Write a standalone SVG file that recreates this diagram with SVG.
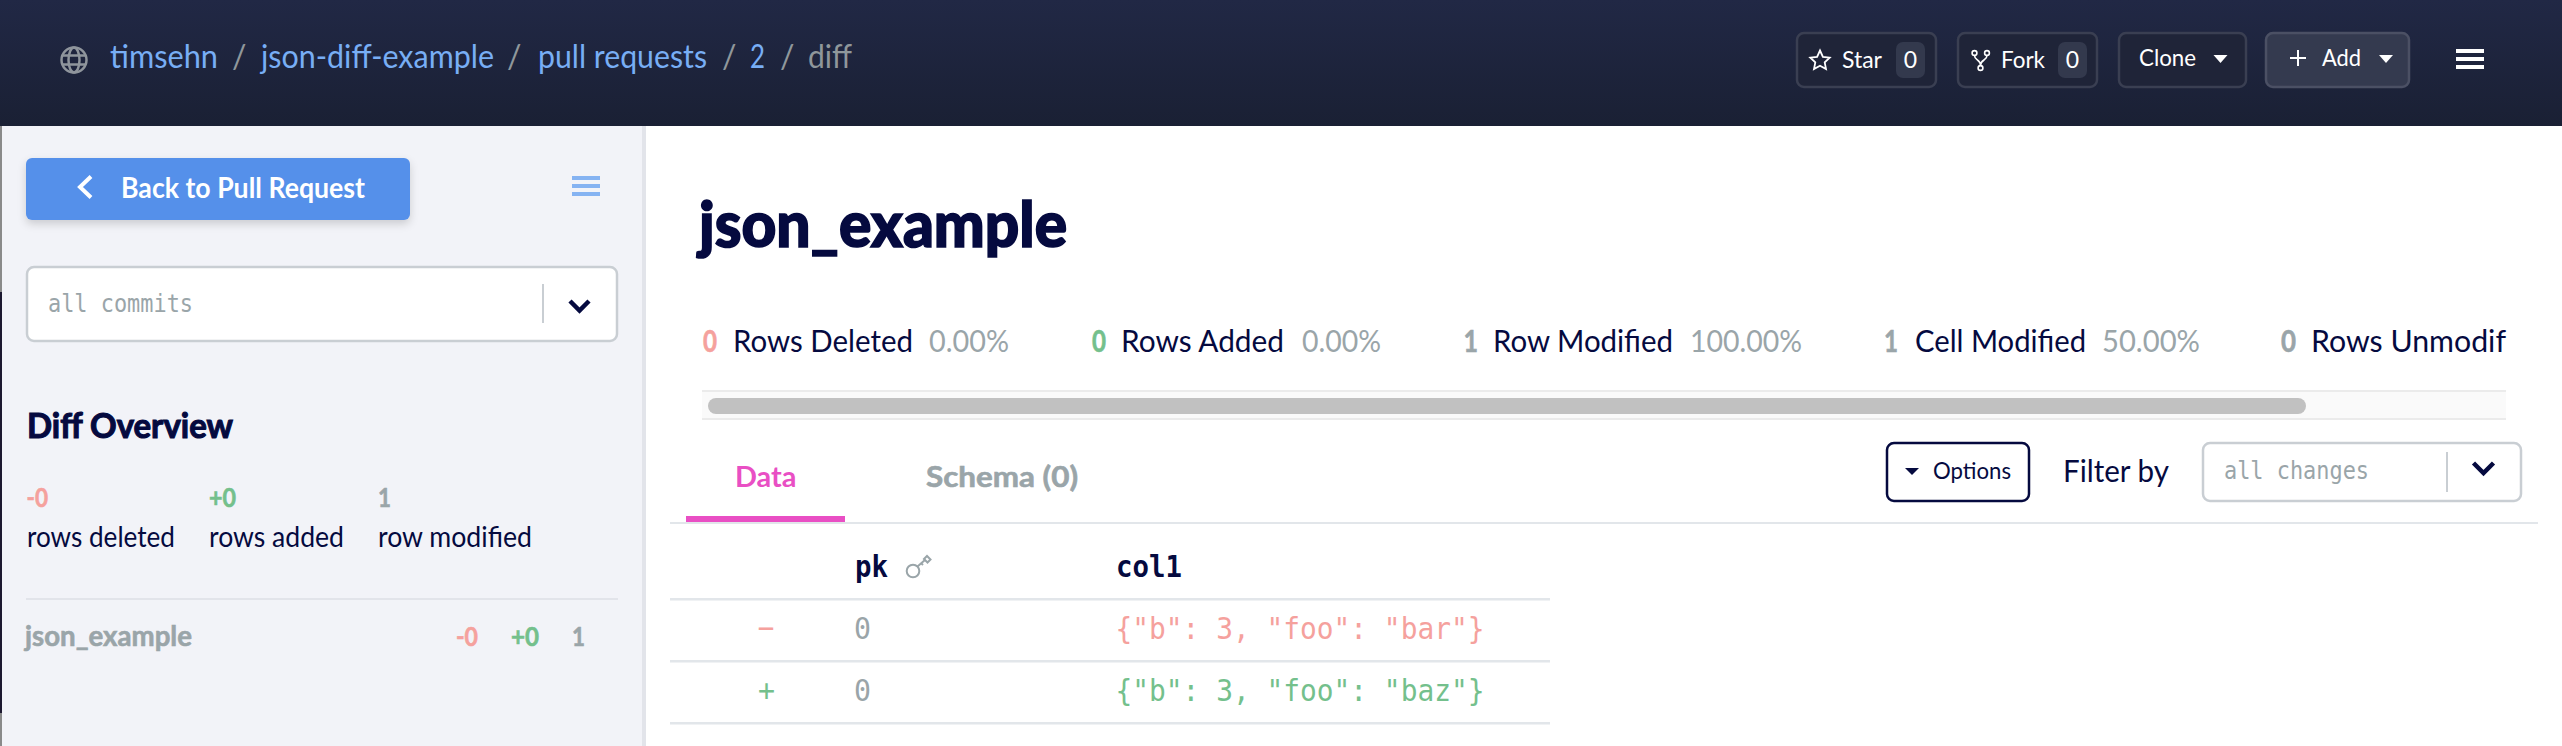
<svg xmlns="http://www.w3.org/2000/svg" width="2562" height="746" viewBox="0 0 2562 746">
<style>
text{font-family:"Lato","Noto Sans",sans-serif;fill:#050a3f}
.m{font-family:"DejaVu Sans Mono","Liberation Mono",monospace}
.link{fill:#78aef5;font-size:32px}
.sep{fill:#8f979b;font-size:32px}
.btn{fill:#fff;font-size:23px}
.panel{fill:#1f2438;stroke:#3a3f52;stroke-width:2.5}
.badge{fill:#33394d}
.red{fill:#f5a19d}
.green{fill:#74c08c}
.gray{fill:#9aa5a9}
.b{font-weight:700}
.red.b{stroke:#f5a19d;stroke-width:.6}
.green.b{stroke:#74c08c;stroke-width:.6}
.gray.b{stroke:#9aa5a9;stroke-width:.6}
.heavy{stroke:#050a3f;stroke-width:1.1}
.s{font-size:28px}
.st{font-size:30px}
.rule{fill:#e2e6ea}
.sel{fill:#fff;stroke:#c9ced3;stroke-width:2.5}
.chev{fill:none;stroke:#050a3f;stroke-width:4.5}
.code{font-size:29.5px}
</style>
<defs>
<linearGradient id="hdr" x1="0" y1="0" x2="0" y2="1"><stop offset="0" stop-color="#212845"/><stop offset="1" stop-color="#1a2034"/></linearGradient>
<filter id="sh" x="-5%" y="-20%" width="110%" height="150%"><feDropShadow dx="0" dy="4" stdDeviation="4" flood-color="#000" flood-opacity=".16"/></filter>
</defs>
<rect width="2562" height="746" fill="#fff"/>
<rect y="126" width="642" height="620" fill="#f2f3f8"/>
<rect x="642" y="126" width="4" height="620" fill="#e2e4ea"/>
<rect y="126" width="2" height="166" fill="#8a8a8a"/>
<rect y="292" width="2" height="421" fill="#1c1830"/>
<rect y="713" width="2" height="33" fill="#8a8a8a"/>

<g id="header">
<rect width="2562" height="126" fill="url(#hdr)"/>
<g id="globe" fill="none" stroke="#8f959c" stroke-width="2.5"><circle cx="74" cy="60" r="12.5"/><ellipse cx="74" cy="60" rx="5.5" ry="12.5"/><path d="M62 55.500H86M62 64.500H86"/></g>
<text class="link" x="110" y="68" textLength="108" lengthAdjust="spacingAndGlyphs">timsehn</text>
<text class="sep" x="232" y="68">/</text>
<text class="link" x="261" y="68" textLength="233" lengthAdjust="spacingAndGlyphs">json-diff-example</text>
<text class="sep" x="507" y="68">/</text>
<text class="link" x="538" y="68" textLength="169" lengthAdjust="spacingAndGlyphs">pull requests</text>
<text class="sep" x="722" y="68">/</text>
<text class="link" x="750" y="68" textLength="15" lengthAdjust="spacingAndGlyphs">2</text>
<text class="sep" x="780" y="68">/</text>
<text class="sep" x="808" y="68" textLength="44" lengthAdjust="spacingAndGlyphs">diff</text>
</g>

<g id="star-button">
<rect class="panel" x="1797" y="33" width="139" height="54" rx="7"/>
<path d="M1820 50.500l2.900 6.300 6.800.800-5 4.700 1.300 6.800-6-3.400-6 3.400 1.300-6.800-5-4.700 6.800-.800z" fill="none" stroke="#fff" stroke-width="1.800"/>
<text class="btn" x="1842" y="68" textLength="40" lengthAdjust="spacingAndGlyphs">Star</text>
<rect class="badge" x="1896" y="42" width="29" height="36" rx="7"/>
<text class="btn" x="1910.500" y="68" text-anchor="middle">0</text>
</g>
<g id="fork-button">
<rect class="panel" x="1958" y="33" width="139" height="54" rx="7"/>
<g fill="none" stroke="#fff" stroke-width="1.600"><circle cx="1974.500" cy="53" r="2.400"/><circle cx="1987" cy="53" r="2.400"/><circle cx="1980.500" cy="68" r="2.400"/><path d="M1974.500 55.500c0 5 6 4 6 10M1987 55.500c0 5-6.500 4-6.500 10"/></g>
<text class="btn" x="2001" y="68" textLength="44" lengthAdjust="spacingAndGlyphs">Fork</text>
<rect class="badge" x="2058" y="42" width="29" height="36" rx="7"/>
<text class="btn" x="2072.500" y="68" text-anchor="middle">0</text>
</g>
<g id="clone-button">
<rect class="panel" x="2119" y="33" width="127" height="54" rx="7"/>
<text class="btn" x="2139" y="66" textLength="57" lengthAdjust="spacingAndGlyphs">Clone</text>
<path d="M2213.500 55h14l-7 8z" fill="#fff"/>
</g>
<g id="add-button">
<rect x="2266" y="33" width="143" height="54" rx="7" fill="#343a4f" stroke="#4b5064" stroke-width="2.500"/>
<path d="M2298 50v16M2290 58h16" stroke="#fff" stroke-width="2"/>
<text class="btn" x="2322" y="66" textLength="39" lengthAdjust="spacingAndGlyphs">Add</text>
<path d="M2379 55h14l-7 8z" fill="#fff"/>
</g>
<g id="menu" fill="#fff"><rect x="2456" y="49" width="28" height="4"/><rect x="2456" y="57" width="28" height="4"/><rect x="2456" y="65" width="28" height="4"/></g>

<g id="back-button">
<rect x="26" y="158" width="384" height="62" rx="6" fill="#5590ea" filter="url(#sh)"/>
<path d="M91 176.500l-11 10.500 11 10.500" fill="none" stroke="#fff" stroke-width="4"/>
<text x="121" y="198" font-size="28" font-weight="700" style="fill:#fff" textLength="244" lengthAdjust="spacingAndGlyphs">Back to Pull Request</text>
</g>
<g id="side-menu" fill="#85b3f2"><rect x="572" y="176" width="28" height="4"/><rect x="572" y="184" width="28" height="4"/><rect x="572" y="192" width="28" height="4"/></g>
<g id="commit-select">
<rect class="sel" x="27" y="267" width="590" height="74" rx="7"/>
<rect x="542" y="284" width="2" height="39" fill="#c9ced3"/>
<text class="m gray" x="48" y="312" font-size="24" textLength="145" lengthAdjust="spacingAndGlyphs">all commits</text>
<path class="chev" d="M570 301l9.500 9.500 9.500-9.500"/>
</g>

<g id="overview">
<text class="b heavy" x="27" y="438" font-size="34" textLength="206" lengthAdjust="spacingAndGlyphs">Diff Overview</text>
<text class="red b" x="26.500" y="507" font-size="26" textLength="21.500" lengthAdjust="spacingAndGlyphs">-0</text>
<text class="green b" x="209" y="507" font-size="26" textLength="27" lengthAdjust="spacingAndGlyphs">+0</text>
<text class="gray b" x="378" y="507" font-size="26" textLength="13" lengthAdjust="spacingAndGlyphs">1</text>
<text x="27" y="547" class="s" textLength="148" lengthAdjust="spacingAndGlyphs">rows deleted</text>
<text x="209" y="547" class="s" textLength="135" lengthAdjust="spacingAndGlyphs">rows added</text>
<text x="378" y="547" class="s" textLength="154" lengthAdjust="spacingAndGlyphs">row modified</text>
<rect x="26" y="598" width="592" height="2" fill="#e2e4ea"/>
<text class="gray b" x="25" y="646" font-size="28" textLength="167" lengthAdjust="spacingAndGlyphs">json_example</text>
<text class="red b" x="456" y="646" font-size="26" textLength="22" lengthAdjust="spacingAndGlyphs">-0</text>
<text class="green b" x="511" y="646" font-size="26" textLength="28" lengthAdjust="spacingAndGlyphs">+0</text>
<text class="gray b" x="572" y="646" font-size="26" textLength="13" lengthAdjust="spacingAndGlyphs">1</text>
</g>

<g id="title"><text class="heavy" x="699" y="247" font-size="62" font-weight="900" style="stroke-width:1.600" textLength="368" lengthAdjust="spacingAndGlyphs">json_example</text></g>

<g id="stats">
<text class="red st b" x="703" y="352" textLength="14" lengthAdjust="spacingAndGlyphs">0</text>
<text class="st" x="733" y="352" textLength="180" lengthAdjust="spacingAndGlyphs">Rows Deleted</text>
<text class="st gray" x="929" y="352" textLength="80" lengthAdjust="spacingAndGlyphs">0.00%</text>
<text class="green st b" x="1092" y="352" textLength="14" lengthAdjust="spacingAndGlyphs">0</text>
<text class="st" x="1121" y="352" textLength="163" lengthAdjust="spacingAndGlyphs">Rows Added</text>
<text class="st gray" x="1302" y="352" textLength="79" lengthAdjust="spacingAndGlyphs">0.00%</text>
<text class="gray st b" x="1463.500" y="352" textLength="14.500" lengthAdjust="spacingAndGlyphs">1</text>
<text class="st" x="1493" y="352" textLength="180" lengthAdjust="spacingAndGlyphs">Row Modified</text>
<text class="st gray" x="1690" y="352" textLength="112" lengthAdjust="spacingAndGlyphs">100.00%</text>
<text class="gray st b" x="1884" y="352" textLength="14" lengthAdjust="spacingAndGlyphs">1</text>
<text class="st" x="1915" y="352" textLength="171" lengthAdjust="spacingAndGlyphs">Cell Modified</text>
<text class="st gray" x="2102" y="352" textLength="98" lengthAdjust="spacingAndGlyphs">50.00%</text>
<text class="gray st b" x="2281" y="352" textLength="15" lengthAdjust="spacingAndGlyphs">0</text>
<text class="st" x="2311" y="352" textLength="195" lengthAdjust="spacingAndGlyphs">Rows Unmodif</text>
</g>
<g id="scrollbar">
<rect x="702" y="390" width="1804" height="29" fill="#fafafa"/>
<rect x="702" y="390" width="1804" height="2" fill="#ebebeb"/>
<rect x="702" y="418" width="1804" height="2" fill="#ebebeb"/>
<rect x="708" y="398" width="1598" height="16" rx="8" fill="#c1c1c1"/>
</g>

<g id="tabs">
<text x="735" y="487" font-size="28" font-weight="700" style="fill:#e94fc4" textLength="61.500" lengthAdjust="spacingAndGlyphs">Data</text>
<text class="gray b" x="926" y="487" font-size="28" textLength="152" lengthAdjust="spacingAndGlyphs">Schema (0)</text>
<rect class="rule" x="670" y="522" width="1868" height="2"/>
<rect x="686" y="516" width="159" height="6" fill="#e94fc4"/>
</g>
<g id="options-button">
<rect x="1887" y="443" width="142" height="58" rx="7" fill="#fff" stroke="#050a3f" stroke-width="2.500"/>
<path d="M1905 468h14l-7 7z" fill="#050a3f"/>
<text x="1933" y="479" font-size="23" textLength="78" lengthAdjust="spacingAndGlyphs">Options</text>
</g>
<text id="filter-label" x="2063" y="482" font-size="30" textLength="106" lengthAdjust="spacingAndGlyphs">Filter by</text>
<g id="filter-select">
<rect class="sel" x="2203" y="443" width="318" height="58" rx="7"/>
<rect x="2446" y="452" width="2" height="40" fill="#c9ced3"/>
<text class="m gray" x="2224" y="479" font-size="24" textLength="145" lengthAdjust="spacingAndGlyphs">all changes</text>
<path class="chev" d="M2473.500 463l10 10 10-10"/>
</g>

<g id="table">
<text class="m b code" x="855" y="577" textLength="33" lengthAdjust="spacingAndGlyphs">pk</text>
<g fill="none" stroke="#9aa5a9" stroke-width="2"><circle cx="913" cy="571" r="6.300"/><path d="M917.500 566.500l8-7M921 563l2 2"/><path d="M924 559l3-3 3.500 3.500-3 3z"/></g>
<text class="m b code" x="1116" y="577" textLength="66" lengthAdjust="spacingAndGlyphs">col1</text>
<rect class="rule" x="670" y="598" width="880" height="2.500"/>
<rect class="rule" x="670" y="660" width="880" height="2.500"/>
<rect class="rule" x="670" y="722" width="880" height="2.500"/>
<text class="m red" x="749" y="637" font-size="29.500" textLength="34" lengthAdjust="spacingAndGlyphs">-</text>
<text class="m gray code" x="854" y="639" textLength="17" lengthAdjust="spacingAndGlyphs">0</text>
<text class="m red code" x="1115.500" y="639" textLength="369" lengthAdjust="spacingAndGlyphs">{"b": 3, "foo": "bar"}</text>
<text class="m green code" x="758" y="701" textLength="17" lengthAdjust="spacingAndGlyphs">+</text>
<text class="m gray code" x="854" y="701" textLength="17" lengthAdjust="spacingAndGlyphs">0</text>
<text class="m green code" x="1115.500" y="701" textLength="369" lengthAdjust="spacingAndGlyphs">{"b": 3, "foo": "baz"}</text>
</g>
</svg>
